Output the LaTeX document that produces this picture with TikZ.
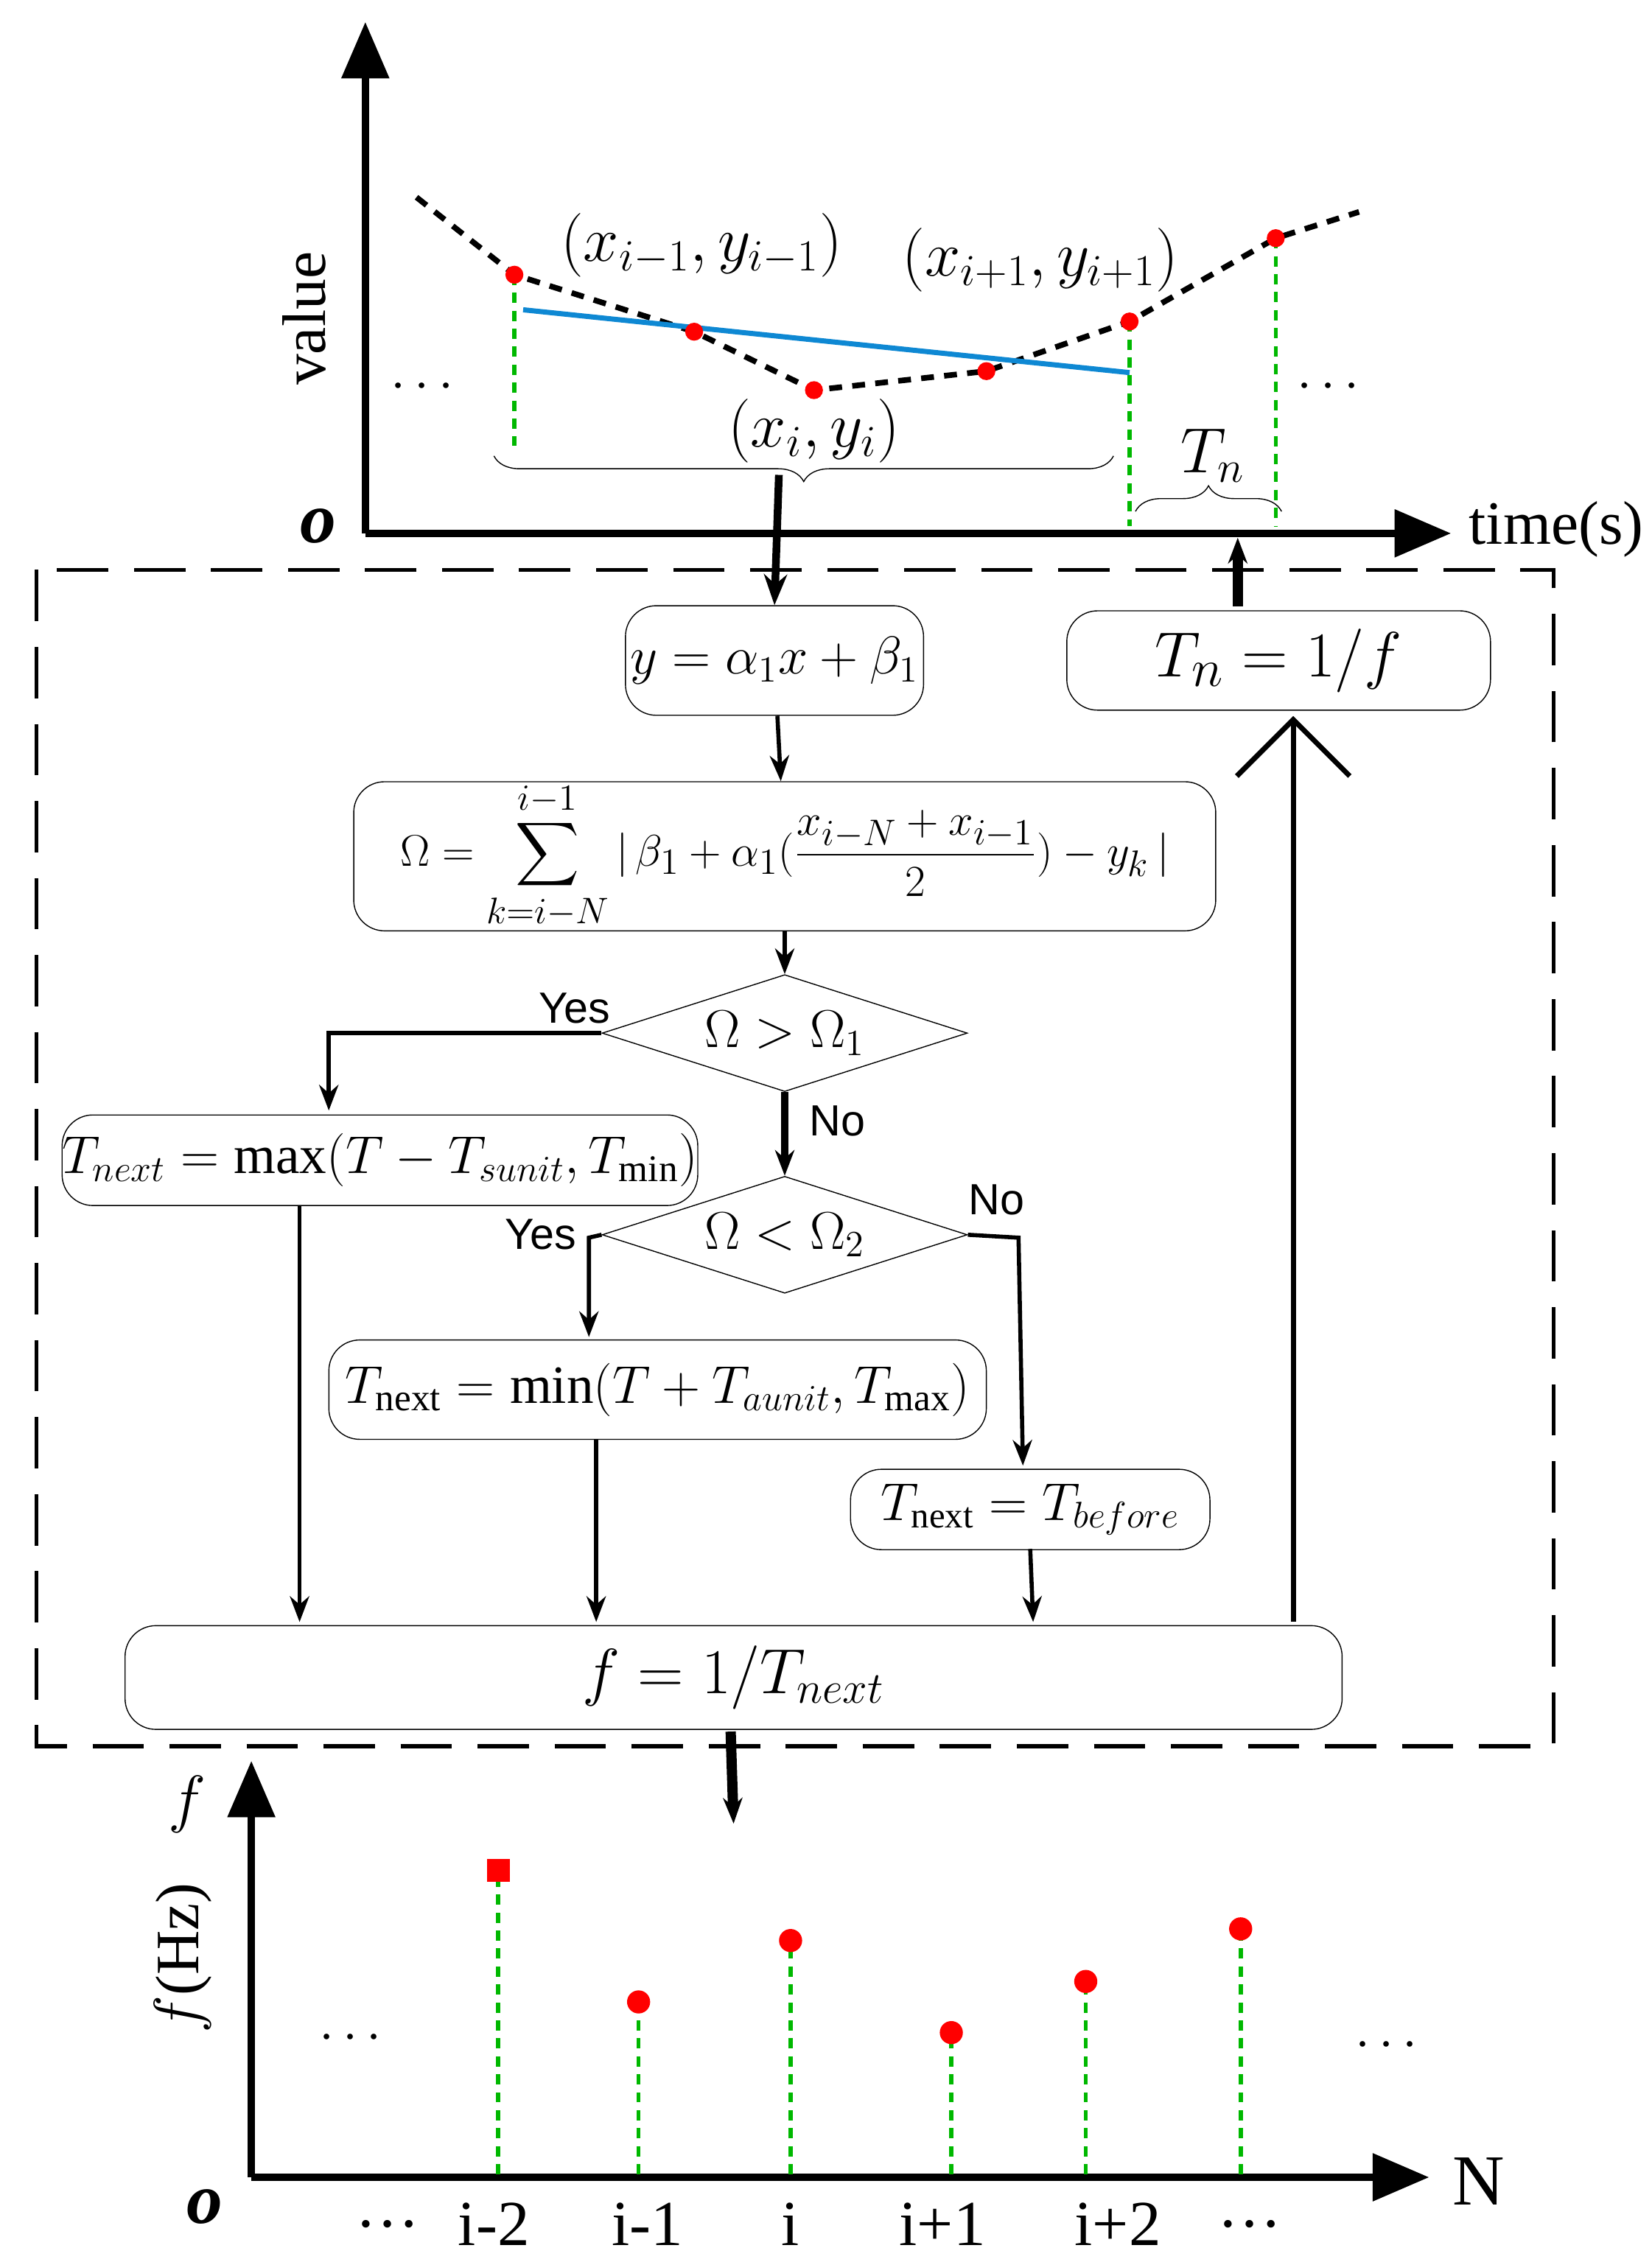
\documentclass[tikz,border=0pt]{standalone}
\usepackage{amsmath}
\usepackage{fontspec}
\setmainfont{Liberation Serif}
\newfontfamily\yesno{Liberation Sans}
\usetikzlibrary{calc,shapes.geometric,decorations.pathreplacing,arrows.meta}
\newcommand{\fsz}[1]{\fontsize{#1}{#1}\selectfont}
\tikzset{
  box/.style={draw,rounded corners=12pt,inner sep=0pt},
  dia/.style={draw,diamond,aspect=3.1,minimum width=5cm,minimum height=1.6cm,inner sep=0pt},
  flow/.style={line width=1.6pt,-{Stealth[length=10pt]}},
  axis/.style={line width=3pt,-{Triangle[length=22pt,width=18pt]}},
  stem/.style={green!60!black!70!green,line width=1.6pt,dash pattern=on 4pt off 3pt},
  dot/.style={circle,red,fill=red,minimum size=7pt,inner sep=0pt},
  lab/.style={font=\yesno\fsz{17}}
}
\begin{document}
\begin{tikzpicture}[x=0.02cm,y=-0.02cm,font=\fsz{22}]
\useasboundingbox (0,0) rectangle (1130,1548);
%		top axes
\coordinate (o1) at (250,365);
\draw[axis] (o1) -- (250,15);
\draw[axis] (o1) -- (993,365);
\node at (218,360) {\fsz{28}\textbf{\textit{o}}};
\node at (1065,362) {\fsz{24}time(s)};
\node[rotate=90] at (208,218) {\fsz{24}value};
%		samples
\coordinate (p0) at (285,135);
\coordinate (p1) at (352,188);
\coordinate (p2) at (475,227);
\coordinate (p3) at (557,267);
\coordinate (p4) at (675,254);
\coordinate (p5) at (773,220);
\coordinate (p6) at (873,163);
\coordinate (p7) at (930,145);
\draw[stem] (p1) -- (352,305);
\draw[stem] (p5) -- (773,360);
\draw[stem] (p6) -- (873,360);
\draw[line width=2.2pt,dash pattern=on 5pt off 4pt] (p0) -- (p1) -- (p2) -- (p3) -- (p4) -- (p5) -- (p6) -- (p7);
\draw[cyan!70!blue,line width=2pt] (358,212) -- (773,255);
\foreach \p in {p1,p2,p3,p4,p5,p6}
  \node[dot] at (\p) {};
\node at (480,168) {\fsz{27}$(x_{i-1},y_{i-1})$};
\node at (712,178) {\fsz{27}$(x_{i+1},y_{i+1})$};
\node at (557,295) {\fsz{27}$(x_{i},y_{i})$};
\node at (292,265) {$\cdots$};
\node at (912,265) {$\cdots$};
\draw[decorate,decoration={brace,amplitude=10pt,mirror}] (338,312) -- (762,312);
\draw[decorate,decoration={brace,amplitude=10pt}] (777,350) -- (877,350);
\node at (830,312) {\fsz{24}$T_n$};
%		flow chart
\draw[line width=1.5pt,dash pattern=on 20pt off 10pt] (25,390) rectangle (1063,1195);
\node[box,minimum width=4.08cm,minimum height=1.5cm] (lin) at (530,452) {$y=\alpha_1x+\beta_1$};
\node[box,minimum width=11.8cm,minimum height=1.84cm] (om) at (537,586)
  {\fsz{19}$\Omega=\displaystyle\sum_{k=i-N}^{i-1}|\,\beta_1+\alpha_1(\frac{x_{i-N}+x_{i-1}}{2})-y_k\,|$};
\node[dia] (d1) at (537,707) {$\Omega>\Omega_1$};
\node[box,minimum width=8.3cm,minimum height=1.24cm] (tmax) at (260,794) {\fsz{21}$T_{next}=\max(T-T_{sunit},T_{\min})$};
\node[dia] (d2) at (537,845) {$\Omega<\Omega_2$};
\node[box,minimum width=9cm,minimum height=1.36cm] (tmin) at (450,951) {\fsz{21}$T_{\mathrm{next}}=\min(T+T_{aunit},T_{\max})$};
\node[box,minimum width=4.92cm,minimum height=1.1cm] (tbef) at (705,1033) {\fsz{20}$T_{\mathrm{next}}=T_{before}$};
\node[box,minimum width=16.66cm,minimum height=1.42cm] (freq) at (502,1148) {\fsz{24}$f=1/T_{next}$};
\node[box,minimum width=5.8cm,minimum height=1.36cm] (tn) at (875,452) {\fsz{28}$T_n=1/f$};
\draw[line width=3pt,-{Stealth[length=12pt]}] (533,325) -- (lin.north);
\draw[flow] (lin) -- (om);
\draw[flow] (om.south-|d1) -- (d1);
\draw[flow] (d1.west) -- (225,707) -- (225,760);
\node[lab] at (393,690) {Yes};
\draw[line width=3pt,-{Stealth[length=10pt]}] (d1) -- (d2);
\node[lab] at (573,767) {No};
\draw[flow] (d2.west) -- (403,847) -- (403,915);
\node[lab] at (370,845) {Yes};
\draw[flow] (d2.east) -- (697,847) -- (700,1003);
\node[lab] at (682,821) {No};
\draw[flow] (205,825) -- (205,1110);
\draw[flow] (408,985) -- (408,1110);
\draw[flow] (705,1060) -- (707,1110);
\draw[line width=2pt,-{Straight Barb[length=22pt,width=44pt]}] (885,1110) -- (885,490);
\draw[line width=4pt,-{Stealth[length=10pt]}] (847,415) -- (847,368);
\draw[line width=4pt,-{Stealth[length=10pt]}] (500,1185) -- (502,1248);
%		bottom axes
\coordinate (o2) at (172,1490);
\draw[axis] (o2) -- (172,1205);
\draw[axis] (o2) -- (978,1490);
\node at (128,1235) {\fsz{36}$f$};
\node[rotate=90] at (125,1340) {\fsz{24}$f$(Hz)};
\node at (140,1510) {\fsz{28}\textbf{\textit{o}}};
\node at (1012,1493) {\fsz{28}N};
\foreach \x/\y/\s in {341/1280/rectangle,437/1370/circle,541/1328/circle,651/1391/circle,743/1356/circle,849/1320/circle}{
  \draw[stem] (\x,1488) -- (\x,\y);
  \node[dot,\s,minimum size=9pt] at (\x,\y) {};
}
\foreach \x/\t in {265/\dots,338/i-2,443/i-1,541/i,645/i+1,765/i+2,855/\dots}
  \node at (\x,1522) {\fsz{25}\t};
\node at (243,1395) {$\cdots$};
\node at (952,1400) {$\cdots$};
\end{tikzpicture}
\end{document}
